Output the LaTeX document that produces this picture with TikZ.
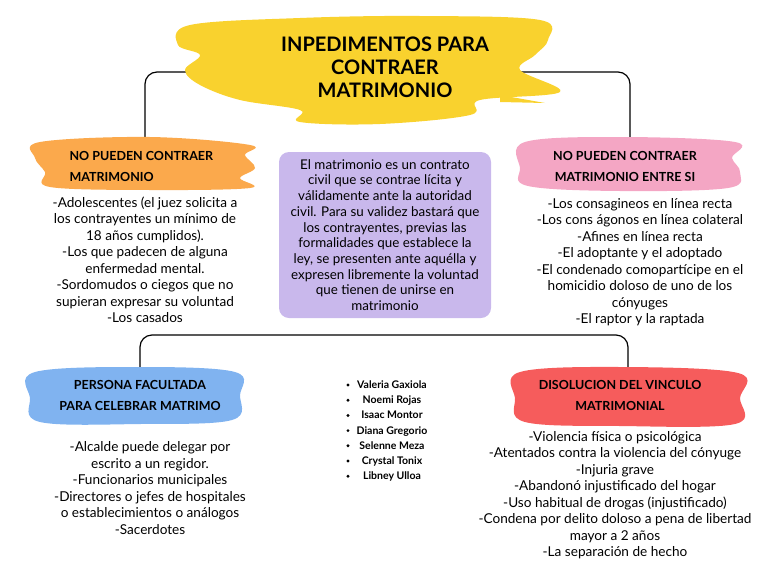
\documentclass[tikz,border=0pt]{standalone}
\usepackage{fontspec}
\setmainfont{Lato}
\begin{document}
\begin{tikzpicture}[x=1pt,y=-1pt,
  hd/.style={font=\bfseries\fontsize{12.5}{21}\selectfont,align=center},
  bd/.style={font=\fontsize{13.6}{16.5}\selectfont,align=center},
  conn/.style={draw=black,line width=1.2pt,rounded corners=12pt}]
\useasboundingbox (0,0) rectangle (768,576);
\definecolor{yel}{HTML}{F9D22E}\definecolor{ora}{HTML}{FBA94C}
\definecolor{pnk}{HTML}{F4A6C4}\definecolor{blu}{HTML}{80B3F0}
\definecolor{rd}{HTML}{F65C5C}\definecolor{pur}{HTML}{C9B8EC}
% connectors
\coordinate (tl) at (145,140); \coordinate (tr) at (630,140);
\coordinate (bl) at (140,370); \coordinate (br) at (628,372);
\draw[conn] (tl) -- (145,72) -- (630,72) -- (tr);
\draw[conn] (bl) -- (140,335) -- (628,335) -- (br);
% title blob
\fill[yel] plot[smooth cycle,tension=.6] coordinates {(190,25)(300,18)(420,16)(540,20)(548,40)(535,55)(520,70)(560,92)(480,100)(470,115)(380,124)(300,122)(300,110)(240,100)(200,85)(185,70)(200,55)(178,45)};
\fill[yel] (500,95) -- (545,103) -- (500,102) -- cycle;
% blobs
\fill[ora] plot[smooth cycle,tension=.6] coordinates {(40,142)(150,137)(250,145)(245,155)(255,168)(240,178)(250,188)(150,190)(50,187)(45,172)(35,158)};
\fill[pnk] plot[smooth cycle,tension=.6] coordinates {(525,142)(620,137)(735,142)(732,158)(740,172)(728,188)(620,191)(528,186)(520,168)};
\fill[blu] plot[smooth cycle,tension=.6] coordinates {(35,372)(140,367)(235,372)(240,395)(232,420)(140,424)(40,422)(30,398)};
\fill[rd] plot[smooth cycle,tension=.6] coordinates {(520,372)(620,367)(738,373)(740,398)(735,424)(620,426)(525,422)(515,398)};
% title
\node[font=\bfseries\fontsize{20}{23}\selectfont,align=center] (title) at (385,67) {INPEDIMENTOS PARA\\CONTRAER\\MATRIMONIO};
\node[hd,align=left,anchor=west] (h1) at (66,166) {NO PUEDEN CONTRAER\\MATRIMONIO};
\node[hd] (h2) at (625,166) {NO PUEDEN CONTRAER\\MATRIMONIO ENTRE SI};
\node[hd] (h3) at (140,395) {PERSONA FACULTADA\\PARA CELEBRAR MATRIMO};
\node[hd] (h4) at (620,395) {DISOLUCION DEL VINCULO\\MATRIMONIAL};
\node[fill=pur,rounded corners=10pt,minimum width=212pt,minimum height=166pt,
  font=\fontsize{13.4}{15.7}\selectfont,align=center,inner sep=2pt] (mid) at (385,235)
 {El matrimonio es un contrato\\civil que se contrae lícita y\\válidamente ante la autoridad\\civil. Para su validez bastará que\\los contrayentes, previas las\\formalidades que establece la\\ley, se presenten ante aquélla y\\expresen libremente la voluntad\\que tienen de unirse en\\matrimonio};
\node[bd] (t1) at (145,260) {-Adolescentes (el juez solicita a\\los contrayentes un mínimo de\\18 años cumplidos).\\-Los que padecen de alguna\\enfermedad mental.\\-Sordomudos o ciegos que no\\supieran expresar su voluntad\\-Los casados};
\node[bd] (t2) at (640,262) {-Los consagineos en línea recta\\-Los cons ágonos en línea colateral\\-Afines en línea recta\\-El adoptante y el adoptado\\-El condenado comopartícipe en el\\homicidio doloso de uno de los\\cónyuges\\-El raptor y la raptada};
\node[bd] (t3) at (150,488) {-Alcalde puede delegar por\\escrito a un regidor.\\-Funcionarios municipales\\-Directores o jefes de hospitales\\o establecimientos o análogos\\-Sacerdotes};
\node[bd] (t4) at (615,495) {-Violencia física o psicológica\\-Atentados contra la violencia del cónyuge\\-Injuria grave\\-Abandonó injustificado del hogar\\-Uso habitual de drogas (injustificado)\\-Condena por delito doloso a pena de libertad\\mayor a 2 años\\-La separación de hecho};
\node[font=\bfseries\fontsize{10.5}{15.2}\selectfont,align=center] (names) at (392,431) {Valeria Gaxiola\\Noemi Rojas\\Isaac Montor\\Diana Gregorio\\Selenne Meza\\Crystal Tonix\\Libney Ulloa};
\foreach \i in {0,...,6} \fill (348,385+15.2*\i) circle (1.6pt);
\end{tikzpicture}
\end{document}
